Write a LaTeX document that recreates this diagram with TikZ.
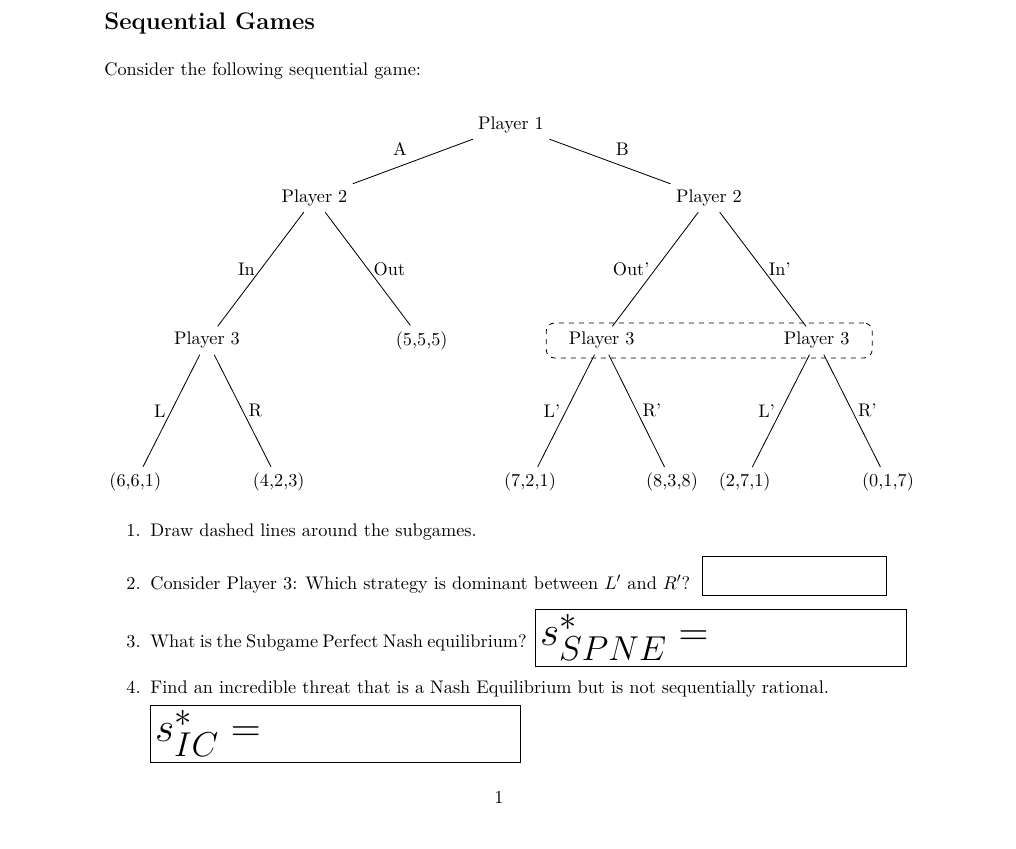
\documentclass[tikz,border=0pt]{standalone}
\usepackage{amsmath}
\usepackage{amsfonts}
\usepackage{tikz}
\usetikzlibrary{fit}

\tikzset{
  every node/.style={font=\fontsize{10.95}{13.6}\selectfont},
  infoset/.style={draw, dashed, rounded corners=5pt, inner xsep=10pt, inner ysep=2pt},
  ansbox/.style={draw, line width=0.5pt, inner sep=3pt, align=left},
  qnum/.style={anchor=base east, inner sep=0pt},
  qtext/.style={anchor=base west, inner sep=0pt}
}

\begin{document}
\begin{tikzpicture}[x=0.6pt,y=-0.6pt,line width=0.5pt]
\useasboundingbox (0,0) rectangle (1016,849);

\node[qtext,font=\fontsize{14.4}{18}\selectfont\bfseries] (title) at (104,30) {Sequential Games};
\node[qtext] (intro) at (104,76) {Consider the following sequential game:};

% players
\node (p1) at (511,125) {Player 1};
\node (p2a) at (314.5,198) {Player 2};
\node (p2b) at (709,198) {Player 2};
\node (p3a) at (207,340.5) {Player 3};
\node (p3b) at (601.7,340.5) {Player 3};
\node (p3c) at (816.7,340.5) {Player 3};

% payoffs
\node (z0) at (421.7,340.5) {(5,5,5)};
\node (z1) at (135.3,482) {(6,6,1)};
\node (z2) at (278.7,482) {(4,2,3)};
\node (z3) at (530,482) {(7,2,1)};
\node (z4) at (672,482) {(8,3,8)};
\node (z5) at (744.7,482) {(2,7,1)};
\node (z6) at (888,482) {(0,1,7)};

\draw (p1) -- node[above left] {A} (p2a);
\draw (p1) -- node[above right] {B} (p2b);

\draw (p2a) -- node[left] {In} (p3a);
\draw (p2a) -- node[right] {Out} (z0);
\draw (p2b) -- node[left] {Out'} (p3b);
\draw (p2b) -- node[right] {In'} (p3c);

\draw (p3a) -- node[left] {L} (z1);
\draw (p3a) -- node[right] {R} (z2);
\draw (p3b) -- node[left] {L'} (z3);
\draw (p3b) -- node[right] {R'} (z4);
\draw (p3c) -- node[left] {L'} (z5);
\draw (p3c) -- node[right] {R'} (z6);

\node[infoset, fit=(p3b)(p3c)] (info) {};

% questions
\node[qnum] (n1) at (141,536) {1.};
\node[qtext] (q1) at (150,536) {Draw dashed lines around the subgames.};

\node[qnum] (n2) at (141,589) {2.};
\node[qtext] (q2) at (150,589) {Consider Player 3: Which strategy is dominant between $L'$ and $R'$?};
\node[ansbox, minimum width=110.4pt, minimum height=23.4pt] (a2) at (794,575.5) {};

\node[qnum] (n3) at (141,647) {3.};
\node[qtext] (q3) at (150,647) {\spaceskip=2.6pt\relax What is the Subgame Perfect Nash equilibrium?};
\node[ansbox, text width=216.6pt, minimum height=34.2pt, font=\fontsize{24.88}{30}\selectfont] (a3) at (720.5,637.5) {$s^*_{SPNE} =$};

\node[qnum] (n4) at (141,693) {4.};
\node[qtext] (q4) at (150,693) {Find an incredible threat that is a Nash Equilibrium but is not sequentially rational.};
\node[ansbox, text width=216pt, minimum height=34.2pt, font=\fontsize{24.88}{30}\selectfont] (a4) at (335,733.5) {$s^*_{IC} =$};

\node (pg) at (499,797) {1};
\end{tikzpicture}
\end{document}
